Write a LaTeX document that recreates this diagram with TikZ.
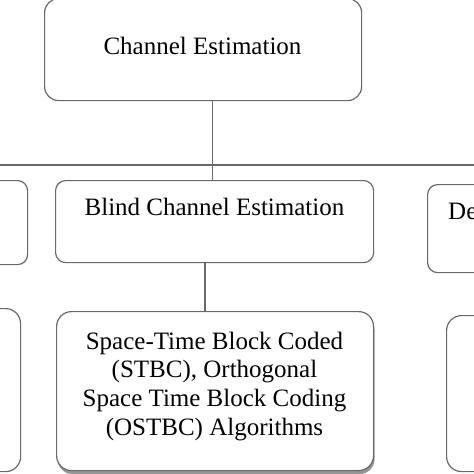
\documentclass[tikz,border=0pt]{standalone}
\usepackage{fontspec}
\setmainfont{Liberation Serif}
\usetikzlibrary{shadows}
\definecolor{linegray}{RGB}{105,105,105}
\definecolor{shadowgray}{RGB}{150,150,150}
\begin{document}
\begin{tikzpicture}[x=1pt,y=-1pt,
  box/.style={draw=linegray, line width=1.2pt, anchor=north west, inner sep=0pt, fill=white},
  conn/.style={draw=linegray, line width=1.2pt},
  txt/.style={inner sep=0pt, font=\fontsize{25}{28.7}\selectfont, text=black}]
\useasboundingbox (0,0) rectangle (474,474);
\clip (0,0) rectangle (474,474);
% boxes
\node[box, rounded corners=14pt, minimum width=317pt, minimum height=102pt] (top) at (44,-2) {};
\node[box, rounded corners=10pt, minimum width=318pt, minimum height=82pt] (blind) at (55,180) {};
\node[box, rounded corners=15pt, minimum width=317pt, minimum height=159pt,
      drop shadow={shadow xshift=1pt, shadow yshift=-3.5pt, fill=shadowgray, opacity=1}] (stbc) at (56,311) {};
\node[box, rounded corners=10pt, minimum width=87pt, minimum height=84pt] (leftmid) at (-60,180) {};
\node[box, rounded corners=15pt, minimum width=80pt, minimum height=163pt] (leftbot) at (-60,308) {};
\node[box, rounded corners=10pt, minimum width=113pt, minimum height=88pt] (rightmid) at (427,184) {};
\node[box, rounded corners=15pt, minimum width=114pt, minimum height=156pt] (rightbot) at (446,315) {};
% texts
\node[txt, anchor=base] (t1) at (202.5,54) {Channel Estimation};
\node[txt, anchor=base] (t2) at (214.5,215.5) {Blind Channel Estimation};
\node[txt, anchor=base west] (t3) at (448,219) {De};
\node[txt, align=center, anchor=center] (t4) at (214.5,386.3) {Space-Time Block Coded\\(STBC), Orthogonal\\Space Time Block Coding\\(OSTBC) Algorithms};
% connectors
\coordinate (J) at (212.5,165);
\coordinate (Lend) at (0,165);
\coordinate (Rend) at (474,165);
\coordinate (K) at (205,0);
\draw[conn] (top.south -| J) -- (J);
\draw[conn] (Lend) -- (J) -- (Rend);
\draw[conn] (J) -- (J |- blind.north);
\draw[conn] (blind.south -| K) -- (stbc.north -| K);
\end{tikzpicture}
\end{document}
